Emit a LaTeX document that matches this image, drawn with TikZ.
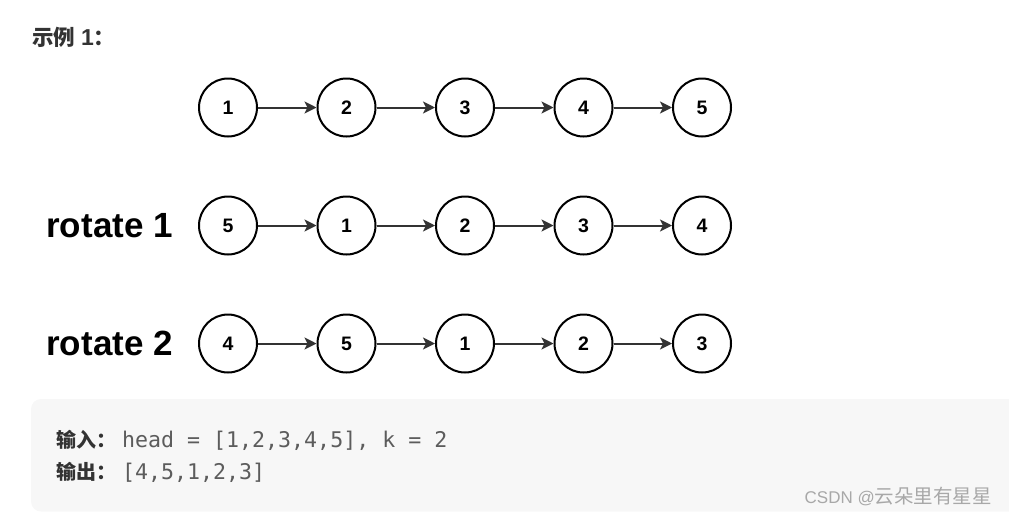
\documentclass[tikz,border=0pt]{standalone}
\usepackage{fontspec}
\setmainfont{Liberation Sans}
\setmonofont{DejaVu Sans Mono}
\newfontfamily\cjk{Noto Sans CJK SC}
\usetikzlibrary{positioning, arrows.meta}
\definecolor{inkgray}{HTML}{333333}
\definecolor{codegray}{HTML}{5C5C5C}
\definecolor{panelbg}{HTML}{F7F7F7}
\definecolor{markgray}{HTML}{A8A8A8}
\newcommand{\codetxt}[1]{{\color{codegray}\fontsize{21.6}{24}\ttfamily\mdseries #1}}

\begin{document}
\begin{tikzpicture}[
  x=1pt, y=-1pt,
  item/.style  ={circle, draw=black, line width=2pt, minimum size=58pt, inner sep=0pt, font=\fontsize{19.5}{22}\selectfont\bfseries},
  link/.style  ={-{Stealth[length=12pt, width=12pt, inset=3pt]}, line width=2pt, draw=inkgray},
  tag/.style   ={inner sep=0pt, font=\fontsize{35}{40}\selectfont\bfseries},
  titletxt/.style={anchor=west, inner sep=0pt, text=inkgray, font=\fontsize{21.5}{24}\cjk\bfseries},
  ioline/.style={anchor=base west, inner sep=0pt, text=inkgray, font=\fontsize{20}{24}\cjk\bfseries},
  wmark/.style ={anchor=east, inner sep=0pt, text=markgray, font=\fontsize{19.5}{22}\cjk},
]
\useasboundingbox (0,0) rectangle (1009,515);

% ---------- title ----------
\node[titletxt] (title) at (32,37) {示例\hspace{6pt}{\rmfamily\fontsize{23}{26}\selectfont 1}：};

% ---------- original list ----------
\node[item] (a1) at (228,107.5) {1};
\node[item, right=58.5pt of a1] (a2) {2};
\node[item, right=58.5pt of a2] (a3) {3};
\node[item, right=58.5pt of a3] (a4) {4};
\node[item, right=58.5pt of a4] (a5) {5};
\draw[link] (a1)--(a2); \draw[link] (a2)--(a3); \draw[link] (a3)--(a4); \draw[link] (a4)--(a5);

% ---------- rotate 1 ----------
\node[item] (b1) at (228,225.5) {5};
\node[item, right=58.5pt of b1] (b2) {1};
\node[item, right=58.5pt of b2] (b3) {2};
\node[item, right=58.5pt of b3] (b4) {3};
\node[item, right=58.5pt of b4] (b5) {4};
\draw[link] (b1)--(b2); \draw[link] (b2)--(b3); \draw[link] (b3)--(b4); \draw[link] (b4)--(b5);
\node[tag, left=25pt of b1] (rot1) {rotate 1};

% ---------- rotate 2 ----------
\node[item] (c1) at (228,343.5) {4};
\node[item, right=58.5pt of c1] (c2) {5};
\node[item, right=58.5pt of c2] (c3) {1};
\node[item, right=58.5pt of c3] (c4) {2};
\node[item, right=58.5pt of c4] (c5) {3};
\draw[link] (c1)--(c2); \draw[link] (c2)--(c3); \draw[link] (c3)--(c4); \draw[link] (c4)--(c5);
\node[tag, left=25pt of c1] (rot2) {rotate 2};

% ---------- input / output panel ----------
\fill[panelbg, rounded corners=10pt] (31,399) rectangle (1025,511.5);
\node[ioline] (inp)  at (56,447) {输入：\hspace{6pt}\codetxt{head = [1,2,3,4,5], k = 2}};
\node[ioline] (outp) at (56,479) {输出：\hspace{6pt}\codetxt{[4,5,1,2,3]}};

% ---------- watermark ----------
\node[wmark] (wm) at (992,496) {{\rmfamily\fontsize{17}{20}\selectfont CSDN @}云朵里有星星};

\end{tikzpicture}
\end{document}
